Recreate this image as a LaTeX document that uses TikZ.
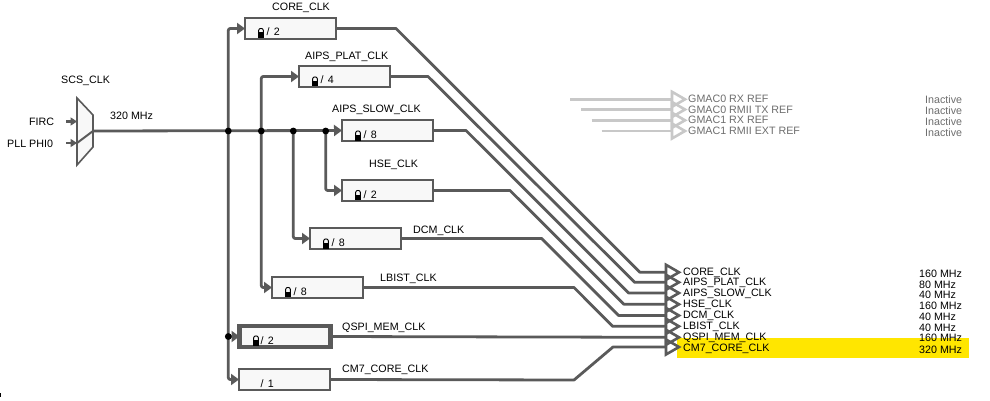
\documentclass[tikz,border=0pt]{standalone}
\usepackage{fontspec}
\usetikzlibrary{arrows.meta}
\setmainfont{Liberation Sans}
\definecolor{wire}{RGB}{90,90,90}
\definecolor{boxfill}{RGB}{248,248,248}
\definecolor{inact}{RGB}{200,200,200}
\definecolor{inacttext}{RGB}{110,110,110}
\definecolor{hilite}{RGB}{255,230,0}
\tikzset{
  x=1pt,y=-1pt,
  wireline/.style={draw=wire,line width=2.8pt,line join=round},
  divbox/.style={draw=wire,line width=2pt,fill=boxfill,minimum height=21pt,minimum width=91pt,inner sep=0pt,outer sep=0pt,anchor=north west},
  lbl/.style={font=\fontsize{10.7}{10.7}\selectfont,text=black,inner sep=0pt,anchor=base west},
  inlbl/.style={lbl,text=inacttext},
  tip/.style={draw=wire,line width=2.6pt,line join=miter},
  intip/.style={draw=inact,line width=2.6pt,line join=miter},
  inarrow/.style={-{Triangle[length=8pt,width=11pt]},wireline,rounded corners=2pt},
  smallarrow/.style={-{Triangle[length=6.5pt,width=8pt]},wireline},
  ddot/.style={circle,fill=black,minimum size=6.8pt,inner sep=0pt},
  inline/.style={draw=inact,line width=2.8pt},
}
\newcommand{\lockat}[2]{%
  \fill[black] ({#1-3},#2) rectangle ({#1+3},{#2-5.5});
  \draw[black,line width=0.9pt] ({#1-2.4},{#2-5}) -- ({#1-2.4},{#2-7.5}) .. controls ({#1-2.4},{#2-10.3}) and ({#1+2.4},{#2-10.3}) .. ({#1+2.4},{#2-7.5}) -- ({#1+2.4},{#2-5});
}
\begin{document}
\begin{tikzpicture}
\useasboundingbox (0,0) rectangle (990,401);
\fill[white] (0,0) rectangle (990,401);
\fill[black] (0,392.5) rectangle (1,397);
\fill[hilite] (677,338) rectangle (969,357.7);

% mux
\coordinate (muxout) at (93,131);
\draw[draw=wire,line width=1.6pt,fill=boxfill] (77,98) -- (93,115) -- (93,147) -- (77,165) -- cycle;
\draw[wireline,line width=2pt] (77,143) -- (muxout);
\node[lbl] (firc) at (29,126) {FIRC};
\node[lbl] (pll) at (7,147) {PLL PHI0};
\node[lbl] (scs) at (61,84) {SCS\_CLK};
\node[lbl] (mhz) at (110,120) {320 MHz};
\coordinate (fi) at (66,121.5); \coordinate (fe) at (77,121.5);
\coordinate (pi) at (66,143); \coordinate (pe) at (77,143);
\draw[smallarrow] (fi) -- (fe);
\draw[smallarrow] (pi) -- (pe);

% boxes
\node[divbox] (core) at (245,18) {};
\node[divbox] (plat) at (299,66) {};
\node[divbox] (slow) at (342,120) {};
\node[divbox] (hse) at (342,180) {};
\node[divbox] (dcm) at (310,228) {};
\node[divbox] (lbist) at (272,277) {};
\node[divbox,line width=4.6pt] (qspi) at (239.5,326) {};
\node[divbox] (cm7) at (239,369) {};

% bus
\coordinate (j1) at (228.3,131); \coordinate (j2) at (261.3,131);
\coordinate (j3) at (293.3,131); \coordinate (j4) at (325.7,131);
\coordinate (j5) at (228.3,336.5);
\draw[inarrow] (muxout) -- (slow.west);
\draw[inarrow] (j1) -- (j1 |- core.west) -- (core.west);
\draw[inarrow] (j2) -- (j2 |- plat.west) -- (plat.west);
\draw[inarrow] (j4) -- (j4 |- hse.west) -- (hse.west);
\draw[inarrow] (j3) -- (j3 |- dcm.west) -- (dcm.west);
\draw[inarrow] (j2) -- (j2 |- lbist.west) -- (lbist.west);
\draw[inarrow] (j1) -- (j1 |- cm7.west) -- (cm7.west);
\draw[inarrow] (j5) -- (qspi.west);
\foreach \n in {j1,j2,j3,j4,j5} \node[ddot] (d\n) at (\n) {};

% output wires
\foreach \i/\y in {a/272.3,b/282.3,c/293,d/304.3,e/315.5,f/326.3,g/337.3,h/347}{
  \coordinate (t\i) at (666,\y);
}
\draw[wireline] (core.east) -- (396,28.5) -- (640,272.3) -- (ta);
\draw[wireline] (plat.east) -- (428,76.5) -- (634.7,282.3) -- (tb);
\draw[wireline] (slow.east) -- (466,130.5) -- (628.7,293) -- (tc);
\draw[wireline] (hse.east) -- (510,190.5) -- (624,304.3) -- (td);
\draw[wireline] (dcm.east) -- (541.7,238.5) -- (618.7,315.5) -- (te);
\draw[wireline] (lbist.east) -- (574,287.5) -- (612.7,326.3) -- (tf);
\draw[wireline] (qspi.east) -- (tg);
\draw[wireline] (cm7.east) -- (574,380) -- (613,347) -- (th);
\foreach \i in {a,b,c,d,e,f,g,h}{
  \draw[tip] (t\i) ++(0,-7.5) -- ++(13,7.5) -- ++(-13,7.5) -- cycle;
}

% box contents
\lockat{261}{38}\lockat{315}{86.5}\lockat{358}{140.5}\lockat{358}{200}
\lockat{326}{248.5}\lockat{288}{297}\lockat{256}{345.5}
\node[lbl] (dc) at (266.5,36) {/\hspace{4.2pt}2};
\node[lbl] (dp) at (320.5,84) {/\hspace{4.2pt}4};
\node[lbl] (ds) at (363.5,138.5) {/\hspace{4.2pt}8};
\node[lbl] (dh) at (363.5,198) {/\hspace{4.2pt}2};
\node[lbl] (dd) at (331.5,246.5) {/\hspace{4.2pt}8};
\node[lbl] (dl) at (293.5,295) {/\hspace{4.2pt}8};
\node[lbl] (dq) at (260.5,344) {/\hspace{4.2pt}2};
\node[lbl] (dm) at (260.5,387) {/\hspace{4.2pt}1};

% box titles
\node[lbl] (tcore) at (272,10.5) {CORE\_CLK};
\node[lbl] (tplat) at (305,60) {AIPS\_PLAT\_CLK};
\node[lbl] (tslow) at (332,113) {AIPS\_SLOW\_CLK};
\node[lbl] (thse) at (369,167) {HSE\_CLK};
\node[lbl] (tdcm) at (413,233) {DCM\_CLK};
\node[lbl] (tlbist) at (380,281) {LBIST\_CLK};
\node[lbl] (tqspi) at (342,330) {QSPI\_MEM\_CLK};
\node[lbl] (tcm7) at (342,372) {CM7\_CORE\_CLK};

% output labels
\foreach \n/\y/\t in {oa/275.5/CORE\_CLK,ob/285.5/AIPS\_PLAT\_CLK,oc/296.5/AIPS\_SLOW\_CLK,od/307/HSE\_CLK,oe/318/DCM\_CLK,of/329/LBIST\_CLK,og/340.5/QSPI\_MEM\_CLK,oh/351/CM7\_CORE\_CLK}{
  \node[lbl] (\n) at (683,\y) {\t};
}
\foreach \n/\y/\t in {fa/277/160 MHz,fb/288/80 MHz,fc/298.5/40 MHz,fd/309/160 MHz,fe/320/40 MHz,ff/331/40 MHz,fg/341.5/160 MHz,fh/353/320 MHz}{
  \node[lbl] (\n) at (919,\y) {\t};
}

% inactive
\foreach \n/\x/\y in {ia/570/99.3,ib/581/109.5,ic/591.5/120.3,id/601.5/131}{
  \coordinate (\n s) at (\x,\y);
  \coordinate (\n e) at (672,\y);
  \draw[inline] (\n s) -- (\n e);
}
\foreach \n in {ia,ib,ic,id}{
  \draw[intip] (\n e) ++(0,-7.5) -- ++(13,7.5) -- ++(-13,7.5) -- cycle;
}
\foreach \n/\y/\t in {ga/103/GMAC0 RX REF,gb/113.5/GMAC0 RMII TX REF,gc/124/GMAC1 RX REF,gd/135/GMAC1 RMII EXT REF}{
  \node[inlbl] (\n) at (688,\y) {\t};
}
\foreach \n/\y in {ha/104,hb/115,hc/126,hd/136}{
  \node[inlbl] (\n) at (925,\y) {Inactive};
}
\end{tikzpicture}
\end{document}
